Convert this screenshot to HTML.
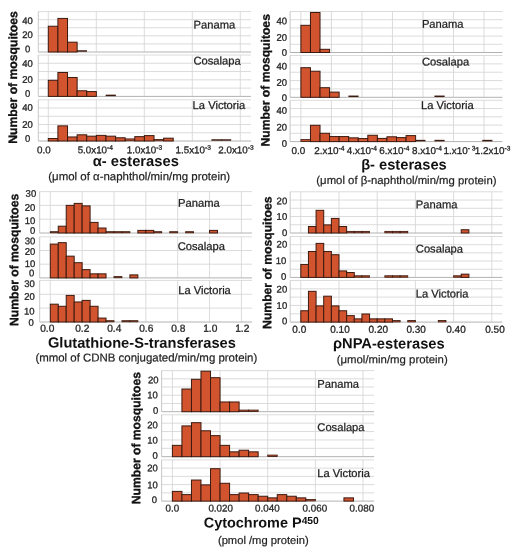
<!DOCTYPE html>
<html lang="en">
<head>
<meta charset="utf-8">
<title>Esterase histograms</title>
<style>
html,body{margin:0;padding:0;background:#fff;}
body{width:517px;height:550px;overflow:hidden;}
svg{display:block;text-rendering:geometricPrecision;filter:blur(0.32px);font-family:"Liberation Sans",Arial,Helvetica,sans-serif;}
</style>
</head>
<body>
<svg width="517" height="550" viewBox="0 0 517 550">
<rect width="517" height="550" fill="#ffffff"/>
<line x1="38.3" x2="251" y1="43.92" y2="43.92" stroke="#d4d4d4" stroke-width="0.85"/>
<line x1="38.3" x2="251" y1="35.84" y2="35.84" stroke="#d4d4d4" stroke-width="0.85"/>
<line x1="38.3" x2="251" y1="27.76" y2="27.76" stroke="#d4d4d4" stroke-width="0.85"/>
<line x1="38.3" x2="251" y1="19.68" y2="19.68" stroke="#d4d4d4" stroke-width="0.85"/>
<line x1="38.3" x2="251" y1="11.60" y2="11.60" stroke="#d4d4d4" stroke-width="0.85"/>
<line x1="48.30" x2="48.30" y1="11.60" y2="52.00" stroke="#d4d4d4" stroke-width="0.85"/>
<line x1="96.30" x2="96.30" y1="11.60" y2="52.00" stroke="#d4d4d4" stroke-width="0.85"/>
<line x1="144.30" x2="144.30" y1="11.60" y2="52.00" stroke="#d4d4d4" stroke-width="0.85"/>
<line x1="192.30" x2="192.30" y1="11.60" y2="52.00" stroke="#d4d4d4" stroke-width="0.85"/>
<line x1="240.30" x2="240.30" y1="11.60" y2="52.00" stroke="#d4d4d4" stroke-width="0.85"/>
<line x1="38.3" x2="38.3" y1="11.60" y2="52.00" stroke="#c2c2c2" stroke-width="0.9"/>
<line x1="38.3" x2="251" y1="52.00" y2="52.00" stroke="#b2b2b2" stroke-width="1"/>
<line x1="38.3" x2="251" y1="88.12" y2="88.12" stroke="#d4d4d4" stroke-width="0.85"/>
<line x1="38.3" x2="251" y1="79.84" y2="79.84" stroke="#d4d4d4" stroke-width="0.85"/>
<line x1="38.3" x2="251" y1="71.56" y2="71.56" stroke="#d4d4d4" stroke-width="0.85"/>
<line x1="38.3" x2="251" y1="63.28" y2="63.28" stroke="#d4d4d4" stroke-width="0.85"/>
<line x1="38.3" x2="251" y1="55.00" y2="55.00" stroke="#d4d4d4" stroke-width="0.85"/>
<line x1="48.30" x2="48.30" y1="55.00" y2="96.40" stroke="#d4d4d4" stroke-width="0.85"/>
<line x1="96.30" x2="96.30" y1="55.00" y2="96.40" stroke="#d4d4d4" stroke-width="0.85"/>
<line x1="144.30" x2="144.30" y1="55.00" y2="96.40" stroke="#d4d4d4" stroke-width="0.85"/>
<line x1="192.30" x2="192.30" y1="55.00" y2="96.40" stroke="#d4d4d4" stroke-width="0.85"/>
<line x1="240.30" x2="240.30" y1="55.00" y2="96.40" stroke="#d4d4d4" stroke-width="0.85"/>
<line x1="38.3" x2="38.3" y1="55.00" y2="96.40" stroke="#c2c2c2" stroke-width="0.9"/>
<line x1="38.3" x2="251" y1="96.40" y2="96.40" stroke="#b2b2b2" stroke-width="1"/>
<line x1="38.3" x2="251" y1="132.76" y2="132.76" stroke="#d4d4d4" stroke-width="0.85"/>
<line x1="38.3" x2="251" y1="124.52" y2="124.52" stroke="#d4d4d4" stroke-width="0.85"/>
<line x1="38.3" x2="251" y1="116.28" y2="116.28" stroke="#d4d4d4" stroke-width="0.85"/>
<line x1="38.3" x2="251" y1="108.04" y2="108.04" stroke="#d4d4d4" stroke-width="0.85"/>
<line x1="38.3" x2="251" y1="99.80" y2="99.80" stroke="#d4d4d4" stroke-width="0.85"/>
<line x1="48.30" x2="48.30" y1="99.80" y2="141.00" stroke="#d4d4d4" stroke-width="0.85"/>
<line x1="96.30" x2="96.30" y1="99.80" y2="141.00" stroke="#d4d4d4" stroke-width="0.85"/>
<line x1="144.30" x2="144.30" y1="99.80" y2="141.00" stroke="#d4d4d4" stroke-width="0.85"/>
<line x1="192.30" x2="192.30" y1="99.80" y2="141.00" stroke="#d4d4d4" stroke-width="0.85"/>
<line x1="240.30" x2="240.30" y1="99.80" y2="141.00" stroke="#d4d4d4" stroke-width="0.85"/>
<line x1="38.3" x2="38.3" y1="99.80" y2="141.00" stroke="#c2c2c2" stroke-width="0.9"/>
<line x1="38.3" x2="251" y1="141.00" y2="141.00" stroke="#b2b2b2" stroke-width="1"/>
<rect x="48.30" y="26.24" width="9.61" height="25.76" fill="#d2542f" stroke="#3b1a10" stroke-width="1"/>
<rect x="57.91" y="18.43" width="9.61" height="33.57" fill="#d2542f" stroke="#3b1a10" stroke-width="1"/>
<rect x="67.52" y="42.18" width="9.61" height="9.82" fill="#d2542f" stroke="#3b1a10" stroke-width="1"/>
<line x1="76.83" x2="87.04" y1="51.00" y2="51.00" stroke="#3b1a10" stroke-width="1.5"/>
<rect x="48.30" y="80.30" width="9.61" height="16.10" fill="#d2542f" stroke="#3b1a10" stroke-width="1"/>
<rect x="57.91" y="72.49" width="9.61" height="23.91" fill="#d2542f" stroke="#3b1a10" stroke-width="1"/>
<rect x="67.52" y="77.48" width="9.61" height="18.92" fill="#d2542f" stroke="#3b1a10" stroke-width="1"/>
<rect x="77.13" y="90.77" width="9.61" height="5.64" fill="#d2542f" stroke="#3b1a10" stroke-width="1"/>
<rect x="86.74" y="91.57" width="9.61" height="4.83" fill="#d2542f" stroke="#3b1a10" stroke-width="1"/>
<line x1="105.66" x2="115.87" y1="95.40" y2="95.40" stroke="#3b1a10" stroke-width="1.5"/>
<rect x="48.30" y="138.50" width="9.61" height="2.50" fill="#d2542f" stroke="#3b1a10" stroke-width="1"/>
<rect x="57.91" y="125.87" width="9.61" height="15.13" fill="#d2542f" stroke="#3b1a10" stroke-width="1"/>
<rect x="67.52" y="136.97" width="9.61" height="4.03" fill="#d2542f" stroke="#3b1a10" stroke-width="1"/>
<rect x="77.13" y="134.80" width="9.61" height="6.20" fill="#d2542f" stroke="#3b1a10" stroke-width="1"/>
<rect x="86.74" y="136.17" width="9.61" height="4.83" fill="#d2542f" stroke="#3b1a10" stroke-width="1"/>
<rect x="96.35" y="135.37" width="9.61" height="5.64" fill="#d2542f" stroke="#3b1a10" stroke-width="1"/>
<rect x="105.96" y="136.17" width="9.61" height="4.83" fill="#d2542f" stroke="#3b1a10" stroke-width="1"/>
<rect x="115.57" y="137.78" width="9.61" height="3.22" fill="#d2542f" stroke="#3b1a10" stroke-width="1"/>
<rect x="125.18" y="138.91" width="9.61" height="1.89" fill="#d2542f" stroke="#3b1a10" stroke-width="0.85"/>
<rect x="134.79" y="136.65" width="9.61" height="4.35" fill="#d2542f" stroke="#3b1a10" stroke-width="1"/>
<rect x="144.40" y="135.61" width="9.61" height="5.39" fill="#d2542f" stroke="#3b1a10" stroke-width="1"/>
<rect x="154.01" y="139.55" width="9.61" height="1.25" fill="#d2542f" stroke="#3b1a10" stroke-width="0.85"/>
<rect x="163.62" y="138.18" width="9.61" height="2.82" fill="#d2542f" stroke="#3b1a10" stroke-width="1"/>
<line x1="211.37" x2="221.58" y1="140.00" y2="140.00" stroke="#3b1a10" stroke-width="1.5"/>
<line x1="220.98" x2="231.19" y1="140.00" y2="140.00" stroke="#3b1a10" stroke-width="1.5"/>
<text transform="rotate(0.05 27.6 20.7)" x="27.6" y="23.97" font-size="9.5" fill="#262626" stroke="#262626" stroke-width="0.3" text-anchor="middle">40</text>
<text transform="rotate(0.05 27.6 34.8)" x="27.6" y="38.07" font-size="9.5" fill="#262626" stroke="#262626" stroke-width="0.3" text-anchor="middle">20</text>
<text transform="rotate(0.05 27.6 48.9)" x="27.6" y="52.17" font-size="9.5" fill="#262626" stroke="#262626" stroke-width="0.3" text-anchor="middle">0</text>
<text transform="rotate(0.05 27.6 63.4)" x="27.6" y="66.67" font-size="9.5" fill="#262626" stroke="#262626" stroke-width="0.3" text-anchor="middle">40</text>
<text transform="rotate(0.05 27.6 79.4)" x="27.6" y="82.67" font-size="9.5" fill="#262626" stroke="#262626" stroke-width="0.3" text-anchor="middle">20</text>
<text transform="rotate(0.05 27.6 93.4)" x="27.6" y="96.67" font-size="9.5" fill="#262626" stroke="#262626" stroke-width="0.3" text-anchor="middle">0</text>
<text transform="rotate(0.05 27.6 107.5)" x="27.6" y="110.77" font-size="9.5" fill="#262626" stroke="#262626" stroke-width="0.3" text-anchor="middle">40</text>
<text transform="rotate(0.05 27.6 124.6)" x="27.6" y="127.87" font-size="9.5" fill="#262626" stroke="#262626" stroke-width="0.3" text-anchor="middle">20</text>
<text transform="rotate(0.05 27.6 138.5)" x="27.6" y="141.77" font-size="9.5" fill="#262626" stroke="#262626" stroke-width="0.3" text-anchor="middle">0</text>
<text transform="rotate(0.05 193.6 28.6)" x="193.6" y="28.6" font-size="11.2" fill="#222222" stroke="#222222" stroke-width="0.25">Panama</text>
<text transform="rotate(0.05 193.4 64.6)" x="193.4" y="64.6" font-size="11.2" fill="#222222" stroke="#222222" stroke-width="0.25">Cosalapa</text>
<text transform="rotate(0.05 192.6 109)" x="192.6" y="109" font-size="11.2" fill="#222222" stroke="#222222" stroke-width="0.25">La Victoria</text>
<text transform="rotate(0.05 43.9 149.9)" x="43.90" y="153.27" font-size="9.8" fill="#262626" stroke="#262626" stroke-width="0.3" text-anchor="middle">0.0</text>
<text transform="rotate(0.05 95.3 149.9)" x="95.30" y="153.27" font-size="9.8" fill="#262626" stroke="#262626" stroke-width="0.3" text-anchor="middle">5.0x10<tspan dy="-3.4" font-size="6.6">-4</tspan></text>
<text transform="rotate(0.05 144.5 149.9)" x="144.50" y="153.27" font-size="9.8" fill="#262626" stroke="#262626" stroke-width="0.3" text-anchor="middle">1.0x10<tspan dy="-3.4" font-size="6.6">-3</tspan></text>
<text transform="rotate(0.05 193.2 149.9)" x="193.20" y="153.27" font-size="9.8" fill="#262626" stroke="#262626" stroke-width="0.3" text-anchor="middle">1.5x10<tspan dy="-3.4" font-size="6.6">-3</tspan></text>
<text transform="rotate(0.05 236.0 149.9)" x="236.00" y="153.27" font-size="9.8" fill="#262626" stroke="#262626" stroke-width="0.3" text-anchor="middle">2.0x10<tspan dy="-3.4" font-size="6.6">-3</tspan></text>
<text transform="rotate(0.05 135.85 166.0)" x="135.85" y="166.0" font-size="14.75" font-weight="bold" fill="#111" text-anchor="middle">α- esterases</text>
<text transform="rotate(0.05 139.2 180.3)" x="139.2" y="180.3" font-size="11.46" fill="#222222" stroke="#222222" stroke-width="0.2" text-anchor="middle">(μmol of α-naphthol/min/mg protein)</text>
<text transform="translate(17.1,77.45) rotate(-89.95)" font-size="12.18" font-weight="bold" fill="#111" stroke="#111" stroke-width="0.35" text-anchor="middle">Number of mosquitoes</text>
<line x1="290.1" x2="502.4" y1="44.30" y2="44.30" stroke="#d4d4d4" stroke-width="0.85"/>
<line x1="290.1" x2="502.4" y1="36.10" y2="36.10" stroke="#d4d4d4" stroke-width="0.85"/>
<line x1="290.1" x2="502.4" y1="27.90" y2="27.90" stroke="#d4d4d4" stroke-width="0.85"/>
<line x1="290.1" x2="502.4" y1="19.70" y2="19.70" stroke="#d4d4d4" stroke-width="0.85"/>
<line x1="290.1" x2="502.4" y1="11.50" y2="11.50" stroke="#d4d4d4" stroke-width="0.85"/>
<line x1="300.90" x2="300.90" y1="11.50" y2="52.50" stroke="#d4d4d4" stroke-width="0.85"/>
<line x1="331.42" x2="331.42" y1="11.50" y2="52.50" stroke="#d4d4d4" stroke-width="0.85"/>
<line x1="361.94" x2="361.94" y1="11.50" y2="52.50" stroke="#d4d4d4" stroke-width="0.85"/>
<line x1="392.46" x2="392.46" y1="11.50" y2="52.50" stroke="#d4d4d4" stroke-width="0.85"/>
<line x1="422.98" x2="422.98" y1="11.50" y2="52.50" stroke="#d4d4d4" stroke-width="0.85"/>
<line x1="453.50" x2="453.50" y1="11.50" y2="52.50" stroke="#d4d4d4" stroke-width="0.85"/>
<line x1="484.02" x2="484.02" y1="11.50" y2="52.50" stroke="#d4d4d4" stroke-width="0.85"/>
<line x1="290.1" x2="290.1" y1="11.50" y2="52.50" stroke="#c2c2c2" stroke-width="0.9"/>
<line x1="290.1" x2="502.4" y1="52.50" y2="52.50" stroke="#b2b2b2" stroke-width="1"/>
<line x1="290.1" x2="502.4" y1="88.94" y2="88.94" stroke="#d4d4d4" stroke-width="0.85"/>
<line x1="290.1" x2="502.4" y1="80.58" y2="80.58" stroke="#d4d4d4" stroke-width="0.85"/>
<line x1="290.1" x2="502.4" y1="72.22" y2="72.22" stroke="#d4d4d4" stroke-width="0.85"/>
<line x1="290.1" x2="502.4" y1="63.86" y2="63.86" stroke="#d4d4d4" stroke-width="0.85"/>
<line x1="290.1" x2="502.4" y1="55.50" y2="55.50" stroke="#d4d4d4" stroke-width="0.85"/>
<line x1="300.90" x2="300.90" y1="55.50" y2="97.30" stroke="#d4d4d4" stroke-width="0.85"/>
<line x1="331.42" x2="331.42" y1="55.50" y2="97.30" stroke="#d4d4d4" stroke-width="0.85"/>
<line x1="361.94" x2="361.94" y1="55.50" y2="97.30" stroke="#d4d4d4" stroke-width="0.85"/>
<line x1="392.46" x2="392.46" y1="55.50" y2="97.30" stroke="#d4d4d4" stroke-width="0.85"/>
<line x1="422.98" x2="422.98" y1="55.50" y2="97.30" stroke="#d4d4d4" stroke-width="0.85"/>
<line x1="453.50" x2="453.50" y1="55.50" y2="97.30" stroke="#d4d4d4" stroke-width="0.85"/>
<line x1="484.02" x2="484.02" y1="55.50" y2="97.30" stroke="#d4d4d4" stroke-width="0.85"/>
<line x1="290.1" x2="290.1" y1="55.50" y2="97.30" stroke="#c2c2c2" stroke-width="0.9"/>
<line x1="290.1" x2="502.4" y1="97.30" y2="97.30" stroke="#b2b2b2" stroke-width="1"/>
<line x1="290.1" x2="502.4" y1="133.34" y2="133.34" stroke="#d4d4d4" stroke-width="0.85"/>
<line x1="290.1" x2="502.4" y1="125.08" y2="125.08" stroke="#d4d4d4" stroke-width="0.85"/>
<line x1="290.1" x2="502.4" y1="116.82" y2="116.82" stroke="#d4d4d4" stroke-width="0.85"/>
<line x1="290.1" x2="502.4" y1="108.56" y2="108.56" stroke="#d4d4d4" stroke-width="0.85"/>
<line x1="290.1" x2="502.4" y1="100.30" y2="100.30" stroke="#d4d4d4" stroke-width="0.85"/>
<line x1="300.90" x2="300.90" y1="100.30" y2="141.60" stroke="#d4d4d4" stroke-width="0.85"/>
<line x1="331.42" x2="331.42" y1="100.30" y2="141.60" stroke="#d4d4d4" stroke-width="0.85"/>
<line x1="361.94" x2="361.94" y1="100.30" y2="141.60" stroke="#d4d4d4" stroke-width="0.85"/>
<line x1="392.46" x2="392.46" y1="100.30" y2="141.60" stroke="#d4d4d4" stroke-width="0.85"/>
<line x1="422.98" x2="422.98" y1="100.30" y2="141.60" stroke="#d4d4d4" stroke-width="0.85"/>
<line x1="453.50" x2="453.50" y1="100.30" y2="141.60" stroke="#d4d4d4" stroke-width="0.85"/>
<line x1="484.02" x2="484.02" y1="100.30" y2="141.60" stroke="#d4d4d4" stroke-width="0.85"/>
<line x1="290.1" x2="290.1" y1="100.30" y2="141.60" stroke="#c2c2c2" stroke-width="0.9"/>
<line x1="290.1" x2="502.4" y1="141.60" y2="141.60" stroke="#b2b2b2" stroke-width="1"/>
<rect x="300.90" y="25.30" width="9.56" height="27.20" fill="#d2542f" stroke="#3b1a10" stroke-width="1"/>
<rect x="310.46" y="12.50" width="9.56" height="40.00" fill="#d2542f" stroke="#3b1a10" stroke-width="1"/>
<rect x="320.02" y="49.30" width="9.56" height="3.20" fill="#d2542f" stroke="#3b1a10" stroke-width="1"/>
<rect x="300.90" y="67.70" width="9.56" height="29.60" fill="#d2542f" stroke="#3b1a10" stroke-width="1"/>
<rect x="310.46" y="71.22" width="9.56" height="26.08" fill="#d2542f" stroke="#3b1a10" stroke-width="1"/>
<rect x="320.02" y="87.70" width="9.56" height="9.60" fill="#d2542f" stroke="#3b1a10" stroke-width="1"/>
<rect x="329.58" y="92.10" width="9.56" height="5.20" fill="#d2542f" stroke="#3b1a10" stroke-width="1"/>
<line x1="348.40" x2="358.56" y1="96.30" y2="96.30" stroke="#3b1a10" stroke-width="1.5"/>
<line x1="434.44" x2="444.60" y1="96.30" y2="96.30" stroke="#3b1a10" stroke-width="1.5"/>
<rect x="300.90" y="139.60" width="9.56" height="1.80" fill="#d2542f" stroke="#3b1a10" stroke-width="0.85"/>
<rect x="310.46" y="125.28" width="9.56" height="16.32" fill="#d2542f" stroke="#3b1a10" stroke-width="1"/>
<rect x="320.02" y="133.28" width="9.56" height="8.32" fill="#d2542f" stroke="#3b1a10" stroke-width="1"/>
<rect x="329.58" y="136.56" width="9.56" height="5.04" fill="#d2542f" stroke="#3b1a10" stroke-width="1"/>
<rect x="339.14" y="136.56" width="9.56" height="5.04" fill="#d2542f" stroke="#3b1a10" stroke-width="1"/>
<rect x="348.70" y="137.84" width="9.56" height="3.76" fill="#d2542f" stroke="#3b1a10" stroke-width="1"/>
<rect x="358.26" y="138.56" width="9.56" height="3.04" fill="#d2542f" stroke="#3b1a10" stroke-width="1"/>
<rect x="367.82" y="135.28" width="9.56" height="6.32" fill="#d2542f" stroke="#3b1a10" stroke-width="1"/>
<rect x="377.38" y="138.40" width="9.56" height="3.20" fill="#d2542f" stroke="#3b1a10" stroke-width="1"/>
<rect x="386.94" y="136.80" width="9.56" height="4.80" fill="#d2542f" stroke="#3b1a10" stroke-width="1"/>
<rect x="396.50" y="137.60" width="9.56" height="4.00" fill="#d2542f" stroke="#3b1a10" stroke-width="1"/>
<rect x="406.06" y="135.60" width="9.56" height="6.00" fill="#d2542f" stroke="#3b1a10" stroke-width="1"/>
<line x1="415.32" x2="425.48" y1="140.60" y2="140.60" stroke="#3b1a10" stroke-width="1.5"/>
<line x1="434.44" x2="444.60" y1="140.60" y2="140.60" stroke="#3b1a10" stroke-width="1.5"/>
<line x1="482.24" x2="492.40" y1="140.60" y2="140.60" stroke="#3b1a10" stroke-width="1.5"/>
<text transform="rotate(0.05 287.0 20.9)" x="287.0" y="24.17" font-size="9.5" fill="#262626" stroke="#262626" stroke-width="0.3" text-anchor="end">40</text>
<text transform="rotate(0.05 287.0 37.4)" x="287.0" y="40.67" font-size="9.5" fill="#262626" stroke="#262626" stroke-width="0.3" text-anchor="end">20</text>
<text transform="rotate(0.05 287.0 52.4)" x="287.0" y="55.67" font-size="9.5" fill="#262626" stroke="#262626" stroke-width="0.3" text-anchor="end">0</text>
<text transform="rotate(0.05 287.0 66.2)" x="287.0" y="69.47" font-size="9.5" fill="#262626" stroke="#262626" stroke-width="0.3" text-anchor="end">40</text>
<text transform="rotate(0.05 287.0 82.6)" x="287.0" y="85.87" font-size="9.5" fill="#262626" stroke="#262626" stroke-width="0.3" text-anchor="end">20</text>
<text transform="rotate(0.05 287.0 97.7)" x="287.0" y="100.97" font-size="9.5" fill="#262626" stroke="#262626" stroke-width="0.3" text-anchor="end">0</text>
<text transform="rotate(0.05 287.0 110.5)" x="287.0" y="113.77" font-size="9.5" fill="#262626" stroke="#262626" stroke-width="0.3" text-anchor="end">40</text>
<text transform="rotate(0.05 287.0 127.3)" x="287.0" y="130.57" font-size="9.5" fill="#262626" stroke="#262626" stroke-width="0.3" text-anchor="end">20</text>
<text transform="rotate(0.05 287.0 143.6)" x="287.0" y="146.87" font-size="9.5" fill="#262626" stroke="#262626" stroke-width="0.3" text-anchor="end">0</text>
<text transform="rotate(0.05 421.9 27.8)" x="421.9" y="27.8" font-size="11.2" fill="#222222" stroke="#222222" stroke-width="0.25">Panama</text>
<text transform="rotate(0.05 421.9 65.4)" x="421.9" y="65.4" font-size="11.2" fill="#222222" stroke="#222222" stroke-width="0.25">Cosalapa</text>
<text transform="rotate(0.05 421 109)" x="421" y="109" font-size="11.2" fill="#222222" stroke="#222222" stroke-width="0.25">La Victoria</text>
<text transform="rotate(0.05 298.4 150.6)" x="298.40" y="154.01" font-size="9.9" fill="#262626" stroke="#262626" stroke-width="0.3" text-anchor="middle">0.0</text>
<text transform="rotate(0.05 329.3 150.6)" x="329.30" y="154.01" font-size="9.9" fill="#262626" stroke="#262626" stroke-width="0.3" text-anchor="middle">2.x10<tspan dy="-3.4" font-size="6.6">-4</tspan></text>
<text transform="rotate(0.05 361.9 150.6)" x="361.85" y="154.01" font-size="9.9" fill="#262626" stroke="#262626" stroke-width="0.3" text-anchor="middle">4.x10<tspan dy="-3.4" font-size="6.6">-4</tspan></text>
<text transform="rotate(0.05 394.4 150.6)" x="394.40" y="154.01" font-size="9.9" fill="#262626" stroke="#262626" stroke-width="0.3" text-anchor="middle">6.x10<tspan dy="-3.4" font-size="6.6">-4</tspan></text>
<text transform="rotate(0.05 426.9 150.6)" x="426.95" y="154.01" font-size="9.9" fill="#262626" stroke="#262626" stroke-width="0.3" text-anchor="middle">8.x10<tspan dy="-3.4" font-size="6.6">-4</tspan></text>
<text transform="rotate(0.05 459.5 150.6)" x="459.50" y="154.01" font-size="9.9" fill="#262626" stroke="#262626" stroke-width="0.3" text-anchor="middle">1.x10<tspan dy="-3.4" font-size="6.6">- 3</tspan></text>
<text transform="rotate(0.05 492.6 150.6)" x="492.60" y="154.01" font-size="9.9" fill="#262626" stroke="#262626" stroke-width="0.3" text-anchor="middle">1.2x10<tspan dy="-3.4" font-size="6.6">-3</tspan></text>
<text transform="rotate(0.05 403.95 169.6)" x="403.95" y="169.6" font-size="14.68" font-weight="bold" fill="#111" text-anchor="middle">β- esterases</text>
<text transform="rotate(0.05 406.4 184.1)" x="406.4" y="184.1" font-size="11.35" fill="#222222" stroke="#222222" stroke-width="0.2" text-anchor="middle">(μmol of β-naphthol/min/mg protein)</text>
<text transform="translate(269.6,80.3) rotate(-89.95)" font-size="12.17" font-weight="bold" fill="#111" stroke="#111" stroke-width="0.35" text-anchor="middle">Number of mosquitoes</text>
<line x1="39.7" x2="251.9" y1="219.20" y2="219.20" stroke="#d4d4d4" stroke-width="0.85"/>
<line x1="39.7" x2="251.9" y1="205.40" y2="205.40" stroke="#d4d4d4" stroke-width="0.85"/>
<line x1="39.7" x2="251.9" y1="191.60" y2="191.60" stroke="#d4d4d4" stroke-width="0.85"/>
<line x1="50.30" x2="50.30" y1="191.60" y2="233.00" stroke="#d4d4d4" stroke-width="0.85"/>
<line x1="82.15" x2="82.15" y1="191.60" y2="233.00" stroke="#d4d4d4" stroke-width="0.85"/>
<line x1="114.00" x2="114.00" y1="191.60" y2="233.00" stroke="#d4d4d4" stroke-width="0.85"/>
<line x1="145.85" x2="145.85" y1="191.60" y2="233.00" stroke="#d4d4d4" stroke-width="0.85"/>
<line x1="177.70" x2="177.70" y1="191.60" y2="233.00" stroke="#d4d4d4" stroke-width="0.85"/>
<line x1="209.55" x2="209.55" y1="191.60" y2="233.00" stroke="#d4d4d4" stroke-width="0.85"/>
<line x1="241.40" x2="241.40" y1="191.60" y2="233.00" stroke="#d4d4d4" stroke-width="0.85"/>
<line x1="39.7" x2="39.7" y1="191.60" y2="233.00" stroke="#c2c2c2" stroke-width="0.9"/>
<line x1="39.7" x2="251.9" y1="233.00" y2="233.00" stroke="#b2b2b2" stroke-width="1"/>
<line x1="39.7" x2="251.9" y1="264.20" y2="264.20" stroke="#d4d4d4" stroke-width="0.85"/>
<line x1="39.7" x2="251.9" y1="250.50" y2="250.50" stroke="#d4d4d4" stroke-width="0.85"/>
<line x1="39.7" x2="251.9" y1="236.80" y2="236.80" stroke="#d4d4d4" stroke-width="0.85"/>
<line x1="50.30" x2="50.30" y1="236.80" y2="277.90" stroke="#d4d4d4" stroke-width="0.85"/>
<line x1="82.15" x2="82.15" y1="236.80" y2="277.90" stroke="#d4d4d4" stroke-width="0.85"/>
<line x1="114.00" x2="114.00" y1="236.80" y2="277.90" stroke="#d4d4d4" stroke-width="0.85"/>
<line x1="145.85" x2="145.85" y1="236.80" y2="277.90" stroke="#d4d4d4" stroke-width="0.85"/>
<line x1="177.70" x2="177.70" y1="236.80" y2="277.90" stroke="#d4d4d4" stroke-width="0.85"/>
<line x1="209.55" x2="209.55" y1="236.80" y2="277.90" stroke="#d4d4d4" stroke-width="0.85"/>
<line x1="241.40" x2="241.40" y1="236.80" y2="277.90" stroke="#d4d4d4" stroke-width="0.85"/>
<line x1="39.7" x2="39.7" y1="236.80" y2="277.90" stroke="#c2c2c2" stroke-width="0.9"/>
<line x1="39.7" x2="251.9" y1="277.90" y2="277.90" stroke="#b2b2b2" stroke-width="1"/>
<line x1="39.7" x2="251.9" y1="308.13" y2="308.13" stroke="#d4d4d4" stroke-width="0.85"/>
<line x1="39.7" x2="251.9" y1="294.27" y2="294.27" stroke="#d4d4d4" stroke-width="0.85"/>
<line x1="39.7" x2="251.9" y1="280.40" y2="280.40" stroke="#d4d4d4" stroke-width="0.85"/>
<line x1="50.30" x2="50.30" y1="280.40" y2="322.00" stroke="#d4d4d4" stroke-width="0.85"/>
<line x1="82.15" x2="82.15" y1="280.40" y2="322.00" stroke="#d4d4d4" stroke-width="0.85"/>
<line x1="114.00" x2="114.00" y1="280.40" y2="322.00" stroke="#d4d4d4" stroke-width="0.85"/>
<line x1="145.85" x2="145.85" y1="280.40" y2="322.00" stroke="#d4d4d4" stroke-width="0.85"/>
<line x1="177.70" x2="177.70" y1="280.40" y2="322.00" stroke="#d4d4d4" stroke-width="0.85"/>
<line x1="209.55" x2="209.55" y1="280.40" y2="322.00" stroke="#d4d4d4" stroke-width="0.85"/>
<line x1="241.40" x2="241.40" y1="280.40" y2="322.00" stroke="#d4d4d4" stroke-width="0.85"/>
<line x1="39.7" x2="39.7" y1="280.40" y2="322.00" stroke="#c2c2c2" stroke-width="0.9"/>
<line x1="39.7" x2="251.9" y1="322.00" y2="322.00" stroke="#b2b2b2" stroke-width="1"/>
<rect x="50.30" y="231.69" width="7.96" height="1.11" fill="#d2542f" stroke="#3b1a10" stroke-width="0.85"/>
<rect x="58.26" y="226.19" width="7.96" height="6.81" fill="#d2542f" stroke="#3b1a10" stroke-width="1"/>
<rect x="66.22" y="205.36" width="7.96" height="27.64" fill="#d2542f" stroke="#3b1a10" stroke-width="1"/>
<rect x="74.18" y="203.39" width="7.96" height="29.61" fill="#d2542f" stroke="#3b1a10" stroke-width="1"/>
<rect x="82.14" y="205.88" width="7.96" height="27.12" fill="#d2542f" stroke="#3b1a10" stroke-width="1"/>
<rect x="90.10" y="222.39" width="7.96" height="10.61" fill="#d2542f" stroke="#3b1a10" stroke-width="1"/>
<rect x="98.06" y="228.02" width="7.96" height="4.98" fill="#d2542f" stroke="#3b1a10" stroke-width="1"/>
<rect x="106.02" y="231.69" width="7.96" height="1.11" fill="#d2542f" stroke="#3b1a10" stroke-width="0.85"/>
<rect x="113.98" y="231.69" width="7.96" height="1.11" fill="#d2542f" stroke="#3b1a10" stroke-width="0.85"/>
<rect x="121.94" y="231.69" width="7.96" height="1.11" fill="#d2542f" stroke="#3b1a10" stroke-width="0.85"/>
<rect x="137.86" y="230.38" width="7.96" height="2.62" fill="#d2542f" stroke="#3b1a10" stroke-width="1"/>
<rect x="145.82" y="230.38" width="7.96" height="2.62" fill="#d2542f" stroke="#3b1a10" stroke-width="1"/>
<rect x="153.78" y="231.69" width="7.96" height="1.11" fill="#d2542f" stroke="#3b1a10" stroke-width="0.85"/>
<rect x="169.70" y="231.69" width="7.96" height="1.11" fill="#d2542f" stroke="#3b1a10" stroke-width="0.85"/>
<rect x="185.62" y="231.69" width="7.96" height="1.11" fill="#d2542f" stroke="#3b1a10" stroke-width="0.85"/>
<rect x="209.50" y="230.38" width="7.96" height="2.62" fill="#d2542f" stroke="#3b1a10" stroke-width="1"/>
<rect x="50.30" y="244.10" width="7.96" height="33.80" fill="#d2542f" stroke="#3b1a10" stroke-width="1"/>
<rect x="58.26" y="242.66" width="7.96" height="35.24" fill="#d2542f" stroke="#3b1a10" stroke-width="1"/>
<rect x="66.22" y="256.15" width="7.96" height="21.75" fill="#d2542f" stroke="#3b1a10" stroke-width="1"/>
<rect x="74.18" y="262.70" width="7.96" height="15.20" fill="#d2542f" stroke="#3b1a10" stroke-width="1"/>
<rect x="82.14" y="269.65" width="7.96" height="8.25" fill="#d2542f" stroke="#3b1a10" stroke-width="1"/>
<rect x="90.10" y="273.84" width="7.96" height="4.06" fill="#d2542f" stroke="#3b1a10" stroke-width="1"/>
<rect x="98.06" y="273.84" width="7.96" height="4.06" fill="#d2542f" stroke="#3b1a10" stroke-width="1"/>
<rect x="113.98" y="276.59" width="7.96" height="1.11" fill="#d2542f" stroke="#3b1a10" stroke-width="0.85"/>
<rect x="129.90" y="274.89" width="7.96" height="3.01" fill="#d2542f" stroke="#3b1a10" stroke-width="1"/>
<rect x="50.30" y="304.18" width="7.96" height="17.82" fill="#d2542f" stroke="#3b1a10" stroke-width="1"/>
<rect x="58.26" y="306.28" width="7.96" height="15.72" fill="#d2542f" stroke="#3b1a10" stroke-width="1"/>
<rect x="66.22" y="295.41" width="7.96" height="26.59" fill="#d2542f" stroke="#3b1a10" stroke-width="1"/>
<rect x="74.18" y="301.96" width="7.96" height="20.04" fill="#d2542f" stroke="#3b1a10" stroke-width="1"/>
<rect x="82.14" y="300.38" width="7.96" height="21.62" fill="#d2542f" stroke="#3b1a10" stroke-width="1"/>
<rect x="90.10" y="306.28" width="7.96" height="15.72" fill="#d2542f" stroke="#3b1a10" stroke-width="1"/>
<rect x="98.06" y="318.07" width="7.96" height="3.93" fill="#d2542f" stroke="#3b1a10" stroke-width="1"/>
<rect x="106.02" y="320.69" width="7.96" height="1.11" fill="#d2542f" stroke="#3b1a10" stroke-width="0.85"/>
<rect x="121.94" y="320.69" width="7.96" height="1.11" fill="#d2542f" stroke="#3b1a10" stroke-width="0.85"/>
<rect x="129.90" y="320.69" width="7.96" height="1.11" fill="#d2542f" stroke="#3b1a10" stroke-width="0.85"/>
<text transform="rotate(0.05 36.2 193.4)" x="36.2" y="196.67" font-size="9.5" fill="#262626" stroke="#262626" stroke-width="0.3" text-anchor="end">30</text>
<text transform="rotate(0.05 35.3 207.6)" x="35.3" y="210.87" font-size="9.5" fill="#262626" stroke="#262626" stroke-width="0.3" text-anchor="end">20</text>
<text transform="rotate(0.05 35.3 220.7)" x="35.3" y="223.97" font-size="9.5" fill="#262626" stroke="#262626" stroke-width="0.3" text-anchor="end">10</text>
<text transform="rotate(0.05 35.3 230.5)" x="35.3" y="233.77" font-size="9.5" fill="#262626" stroke="#262626" stroke-width="0.3" text-anchor="end">0</text>
<text transform="rotate(0.05 35.3 241.0)" x="35.3" y="244.27" font-size="9.5" fill="#262626" stroke="#262626" stroke-width="0.3" text-anchor="end">30</text>
<text transform="rotate(0.05 35.3 251.6)" x="35.3" y="254.87" font-size="9.5" fill="#262626" stroke="#262626" stroke-width="0.3" text-anchor="end">20</text>
<text transform="rotate(0.05 35.3 263.7)" x="35.3" y="266.97" font-size="9.5" fill="#262626" stroke="#262626" stroke-width="0.3" text-anchor="end">10</text>
<text transform="rotate(0.05 34.4 272.9)" x="34.4" y="276.17" font-size="9.5" fill="#262626" stroke="#262626" stroke-width="0.3" text-anchor="end">0</text>
<text transform="rotate(0.05 34.8 283.8)" x="34.8" y="287.07" font-size="9.5" fill="#262626" stroke="#262626" stroke-width="0.3" text-anchor="end">30</text>
<text transform="rotate(0.05 34.8 296.6)" x="34.8" y="299.87" font-size="9.5" fill="#262626" stroke="#262626" stroke-width="0.3" text-anchor="end">20</text>
<text transform="rotate(0.05 34.5 311.2)" x="34.5" y="314.47" font-size="9.5" fill="#262626" stroke="#262626" stroke-width="0.3" text-anchor="end">10</text>
<text transform="rotate(0.05 33.7 322.6)" x="33.7" y="325.87" font-size="9.5" fill="#262626" stroke="#262626" stroke-width="0.3" text-anchor="end">0</text>
<text transform="rotate(0.05 178 206.7)" x="178" y="206.7" font-size="11.2" fill="#222222" stroke="#222222" stroke-width="0.25">Panama</text>
<text transform="rotate(0.05 177.7 250)" x="177.7" y="250" font-size="11.2" fill="#222222" stroke="#222222" stroke-width="0.25">Cosalapa</text>
<text transform="rotate(0.05 178.2 294)" x="178.2" y="294" font-size="11.2" fill="#222222" stroke="#222222" stroke-width="0.25">La Victoria</text>
<text transform="rotate(0.05 47.3 328.3)" x="47.30" y="331.81" font-size="10.2" fill="#262626" stroke="#262626" stroke-width="0.3" text-anchor="middle">0.0</text>
<text transform="rotate(0.05 82.3 328.3)" x="82.30" y="331.81" font-size="10.2" fill="#262626" stroke="#262626" stroke-width="0.3" text-anchor="middle">0.2</text>
<text transform="rotate(0.05 114.3 328.3)" x="114.30" y="331.81" font-size="10.2" fill="#262626" stroke="#262626" stroke-width="0.3" text-anchor="middle">0.4</text>
<text transform="rotate(0.05 146.3 328.3)" x="146.30" y="331.81" font-size="10.2" fill="#262626" stroke="#262626" stroke-width="0.3" text-anchor="middle">0.6</text>
<text transform="rotate(0.05 178.3 328.3)" x="178.30" y="331.81" font-size="10.2" fill="#262626" stroke="#262626" stroke-width="0.3" text-anchor="middle">0.8</text>
<text transform="rotate(0.05 210.3 328.3)" x="210.30" y="331.81" font-size="10.2" fill="#262626" stroke="#262626" stroke-width="0.3" text-anchor="middle">1.0</text>
<text transform="rotate(0.05 242.3 328.3)" x="242.30" y="331.81" font-size="10.2" fill="#262626" stroke="#262626" stroke-width="0.3" text-anchor="middle">1.2</text>
<text transform="rotate(0.05 141.9 347.7)" x="141.9" y="347.7" font-size="14.65" font-weight="bold" fill="#111" text-anchor="middle">Glutathione-S-transferases</text>
<text transform="rotate(0.05 146.3 361.5)" x="146.3" y="361.5" font-size="11.45" fill="#222222" stroke="#222222" stroke-width="0.2" text-anchor="middle">(mmol of CDNB conjugated/min/mg protein)</text>
<text transform="translate(18.2,259.9) rotate(-89.95)" font-size="12.13" font-weight="bold" fill="#111" stroke="#111" stroke-width="0.35" text-anchor="middle">Number of mosquitoes</text>
<line x1="290.2" x2="502.4" y1="224.76" y2="224.76" stroke="#d4d4d4" stroke-width="0.85"/>
<line x1="290.2" x2="502.4" y1="216.52" y2="216.52" stroke="#d4d4d4" stroke-width="0.85"/>
<line x1="290.2" x2="502.4" y1="208.28" y2="208.28" stroke="#d4d4d4" stroke-width="0.85"/>
<line x1="290.2" x2="502.4" y1="200.04" y2="200.04" stroke="#d4d4d4" stroke-width="0.85"/>
<line x1="290.2" x2="502.4" y1="191.80" y2="191.80" stroke="#d4d4d4" stroke-width="0.85"/>
<line x1="300.80" x2="300.80" y1="191.80" y2="233.00" stroke="#d4d4d4" stroke-width="0.85"/>
<line x1="339.00" x2="339.00" y1="191.80" y2="233.00" stroke="#d4d4d4" stroke-width="0.85"/>
<line x1="377.20" x2="377.20" y1="191.80" y2="233.00" stroke="#d4d4d4" stroke-width="0.85"/>
<line x1="415.40" x2="415.40" y1="191.80" y2="233.00" stroke="#d4d4d4" stroke-width="0.85"/>
<line x1="453.60" x2="453.60" y1="191.80" y2="233.00" stroke="#d4d4d4" stroke-width="0.85"/>
<line x1="491.80" x2="491.80" y1="191.80" y2="233.00" stroke="#d4d4d4" stroke-width="0.85"/>
<line x1="290.2" x2="290.2" y1="191.80" y2="233.00" stroke="#c2c2c2" stroke-width="0.9"/>
<line x1="290.2" x2="502.4" y1="233.00" y2="233.00" stroke="#b2b2b2" stroke-width="1"/>
<line x1="290.2" x2="502.4" y1="269.22" y2="269.22" stroke="#d4d4d4" stroke-width="0.85"/>
<line x1="290.2" x2="502.4" y1="261.04" y2="261.04" stroke="#d4d4d4" stroke-width="0.85"/>
<line x1="290.2" x2="502.4" y1="252.86" y2="252.86" stroke="#d4d4d4" stroke-width="0.85"/>
<line x1="290.2" x2="502.4" y1="244.68" y2="244.68" stroke="#d4d4d4" stroke-width="0.85"/>
<line x1="290.2" x2="502.4" y1="236.50" y2="236.50" stroke="#d4d4d4" stroke-width="0.85"/>
<line x1="300.80" x2="300.80" y1="236.50" y2="277.40" stroke="#d4d4d4" stroke-width="0.85"/>
<line x1="339.00" x2="339.00" y1="236.50" y2="277.40" stroke="#d4d4d4" stroke-width="0.85"/>
<line x1="377.20" x2="377.20" y1="236.50" y2="277.40" stroke="#d4d4d4" stroke-width="0.85"/>
<line x1="415.40" x2="415.40" y1="236.50" y2="277.40" stroke="#d4d4d4" stroke-width="0.85"/>
<line x1="453.60" x2="453.60" y1="236.50" y2="277.40" stroke="#d4d4d4" stroke-width="0.85"/>
<line x1="491.80" x2="491.80" y1="236.50" y2="277.40" stroke="#d4d4d4" stroke-width="0.85"/>
<line x1="290.2" x2="290.2" y1="236.50" y2="277.40" stroke="#c2c2c2" stroke-width="0.9"/>
<line x1="290.2" x2="502.4" y1="277.40" y2="277.40" stroke="#b2b2b2" stroke-width="1"/>
<line x1="290.2" x2="502.4" y1="313.78" y2="313.78" stroke="#d4d4d4" stroke-width="0.85"/>
<line x1="290.2" x2="502.4" y1="305.46" y2="305.46" stroke="#d4d4d4" stroke-width="0.85"/>
<line x1="290.2" x2="502.4" y1="297.14" y2="297.14" stroke="#d4d4d4" stroke-width="0.85"/>
<line x1="290.2" x2="502.4" y1="288.82" y2="288.82" stroke="#d4d4d4" stroke-width="0.85"/>
<line x1="290.2" x2="502.4" y1="280.50" y2="280.50" stroke="#d4d4d4" stroke-width="0.85"/>
<line x1="300.80" x2="300.80" y1="280.50" y2="322.10" stroke="#d4d4d4" stroke-width="0.85"/>
<line x1="339.00" x2="339.00" y1="280.50" y2="322.10" stroke="#d4d4d4" stroke-width="0.85"/>
<line x1="377.20" x2="377.20" y1="280.50" y2="322.10" stroke="#d4d4d4" stroke-width="0.85"/>
<line x1="415.40" x2="415.40" y1="280.50" y2="322.10" stroke="#d4d4d4" stroke-width="0.85"/>
<line x1="453.60" x2="453.60" y1="280.50" y2="322.10" stroke="#d4d4d4" stroke-width="0.85"/>
<line x1="491.80" x2="491.80" y1="280.50" y2="322.10" stroke="#d4d4d4" stroke-width="0.85"/>
<line x1="290.2" x2="290.2" y1="280.50" y2="322.10" stroke="#c2c2c2" stroke-width="0.9"/>
<line x1="290.2" x2="502.4" y1="322.10" y2="322.10" stroke="#b2b2b2" stroke-width="1"/>
<rect x="308.44" y="226.52" width="7.64" height="6.48" fill="#d2542f" stroke="#3b1a10" stroke-width="1"/>
<rect x="316.08" y="210.32" width="7.64" height="22.68" fill="#d2542f" stroke="#3b1a10" stroke-width="1"/>
<rect x="323.72" y="224.90" width="7.64" height="8.10" fill="#d2542f" stroke="#3b1a10" stroke-width="1"/>
<rect x="331.36" y="218.42" width="7.64" height="14.58" fill="#d2542f" stroke="#3b1a10" stroke-width="1"/>
<rect x="339.00" y="226.52" width="7.64" height="6.48" fill="#d2542f" stroke="#3b1a10" stroke-width="1"/>
<rect x="346.64" y="231.38" width="7.64" height="1.42" fill="#d2542f" stroke="#3b1a10" stroke-width="0.85"/>
<rect x="354.28" y="231.38" width="7.64" height="1.42" fill="#d2542f" stroke="#3b1a10" stroke-width="0.85"/>
<rect x="361.92" y="231.38" width="7.64" height="1.42" fill="#d2542f" stroke="#3b1a10" stroke-width="0.85"/>
<rect x="384.84" y="231.38" width="7.64" height="1.42" fill="#d2542f" stroke="#3b1a10" stroke-width="0.85"/>
<rect x="392.48" y="231.38" width="7.64" height="1.42" fill="#d2542f" stroke="#3b1a10" stroke-width="0.85"/>
<rect x="400.12" y="231.38" width="7.64" height="1.42" fill="#d2542f" stroke="#3b1a10" stroke-width="0.85"/>
<rect x="461.24" y="229.76" width="7.64" height="3.24" fill="#d2542f" stroke="#3b1a10" stroke-width="1"/>
<rect x="300.80" y="264.44" width="7.64" height="12.96" fill="#d2542f" stroke="#3b1a10" stroke-width="1"/>
<rect x="308.44" y="251.48" width="7.64" height="25.92" fill="#d2542f" stroke="#3b1a10" stroke-width="1"/>
<rect x="316.08" y="243.38" width="7.64" height="34.02" fill="#d2542f" stroke="#3b1a10" stroke-width="1"/>
<rect x="323.72" y="251.48" width="7.64" height="25.92" fill="#d2542f" stroke="#3b1a10" stroke-width="1"/>
<rect x="331.36" y="254.72" width="7.64" height="22.68" fill="#d2542f" stroke="#3b1a10" stroke-width="1"/>
<rect x="339.00" y="270.92" width="7.64" height="6.48" fill="#d2542f" stroke="#3b1a10" stroke-width="1"/>
<rect x="346.64" y="272.54" width="7.64" height="4.86" fill="#d2542f" stroke="#3b1a10" stroke-width="1"/>
<rect x="354.28" y="275.78" width="7.64" height="1.42" fill="#d2542f" stroke="#3b1a10" stroke-width="0.85"/>
<rect x="361.92" y="275.78" width="7.64" height="1.42" fill="#d2542f" stroke="#3b1a10" stroke-width="0.85"/>
<rect x="384.84" y="275.78" width="7.64" height="1.42" fill="#d2542f" stroke="#3b1a10" stroke-width="0.85"/>
<rect x="392.48" y="275.78" width="7.64" height="1.42" fill="#d2542f" stroke="#3b1a10" stroke-width="0.85"/>
<rect x="400.12" y="275.78" width="7.64" height="1.42" fill="#d2542f" stroke="#3b1a10" stroke-width="0.85"/>
<rect x="453.60" y="275.78" width="7.64" height="1.42" fill="#d2542f" stroke="#3b1a10" stroke-width="0.85"/>
<rect x="461.24" y="274.16" width="7.64" height="3.24" fill="#d2542f" stroke="#3b1a10" stroke-width="1"/>
<rect x="300.80" y="310.76" width="7.64" height="11.34" fill="#d2542f" stroke="#3b1a10" stroke-width="1"/>
<rect x="308.44" y="291.32" width="7.64" height="30.78" fill="#d2542f" stroke="#3b1a10" stroke-width="1"/>
<rect x="316.08" y="305.90" width="7.64" height="16.20" fill="#d2542f" stroke="#3b1a10" stroke-width="1"/>
<rect x="323.72" y="296.18" width="7.64" height="25.92" fill="#d2542f" stroke="#3b1a10" stroke-width="1"/>
<rect x="331.36" y="305.90" width="7.64" height="16.20" fill="#d2542f" stroke="#3b1a10" stroke-width="1"/>
<rect x="339.00" y="310.76" width="7.64" height="11.34" fill="#d2542f" stroke="#3b1a10" stroke-width="1"/>
<rect x="346.64" y="315.62" width="7.64" height="6.48" fill="#d2542f" stroke="#3b1a10" stroke-width="1"/>
<rect x="354.28" y="318.86" width="7.64" height="3.24" fill="#d2542f" stroke="#3b1a10" stroke-width="1"/>
<rect x="361.92" y="314.00" width="7.64" height="8.10" fill="#d2542f" stroke="#3b1a10" stroke-width="1"/>
<rect x="369.56" y="318.86" width="7.64" height="3.24" fill="#d2542f" stroke="#3b1a10" stroke-width="1"/>
<rect x="377.20" y="318.86" width="7.64" height="3.24" fill="#d2542f" stroke="#3b1a10" stroke-width="1"/>
<rect x="384.84" y="318.86" width="7.64" height="3.24" fill="#d2542f" stroke="#3b1a10" stroke-width="1"/>
<rect x="392.48" y="320.48" width="7.64" height="1.42" fill="#d2542f" stroke="#3b1a10" stroke-width="0.85"/>
<rect x="407.76" y="320.48" width="7.64" height="1.42" fill="#d2542f" stroke="#3b1a10" stroke-width="0.85"/>
<rect x="438.32" y="320.48" width="7.64" height="1.42" fill="#d2542f" stroke="#3b1a10" stroke-width="0.85"/>
<text transform="rotate(0.05 287.2 201.1)" x="287.2" y="204.37" font-size="9.5" fill="#262626" stroke="#262626" stroke-width="0.3" text-anchor="end">20</text>
<text transform="rotate(0.05 287.2 216.6)" x="287.2" y="219.87" font-size="9.5" fill="#262626" stroke="#262626" stroke-width="0.3" text-anchor="end">10</text>
<text transform="rotate(0.05 287.2 232.7)" x="287.2" y="235.97" font-size="9.5" fill="#262626" stroke="#262626" stroke-width="0.3" text-anchor="end">0</text>
<text transform="rotate(0.05 287.2 244.3)" x="287.2" y="247.57" font-size="9.5" fill="#262626" stroke="#262626" stroke-width="0.3" text-anchor="end">20</text>
<text transform="rotate(0.05 286.3 260.8)" x="286.3" y="264.07" font-size="9.5" fill="#262626" stroke="#262626" stroke-width="0.3" text-anchor="end">10</text>
<text transform="rotate(0.05 286.3 276.4)" x="286.3" y="279.67" font-size="9.5" fill="#262626" stroke="#262626" stroke-width="0.3" text-anchor="end">0</text>
<text transform="rotate(0.05 287.2 289.2)" x="287.2" y="292.47" font-size="9.5" fill="#262626" stroke="#262626" stroke-width="0.3" text-anchor="end">20</text>
<text transform="rotate(0.05 287.2 305.6)" x="287.2" y="308.87" font-size="9.5" fill="#262626" stroke="#262626" stroke-width="0.3" text-anchor="end">10</text>
<text transform="rotate(0.05 287.2 320.9)" x="287.2" y="324.17" font-size="9.5" fill="#262626" stroke="#262626" stroke-width="0.3" text-anchor="end">0</text>
<text transform="rotate(0.05 415.8 208.3)" x="415.8" y="208.3" font-size="11.2" fill="#222222" stroke="#222222" stroke-width="0.25">Panama</text>
<text transform="rotate(0.05 415.8 252.6)" x="415.8" y="252.6" font-size="11.2" fill="#222222" stroke="#222222" stroke-width="0.25">Cosalapa</text>
<text transform="rotate(0.05 415.8 297.5)" x="415.8" y="297.5" font-size="11.2" fill="#222222" stroke="#222222" stroke-width="0.25">La Victoria</text>
<text transform="rotate(0.05 299.3 329.3)" x="299.30" y="332.74" font-size="10.0" fill="#262626" stroke="#262626" stroke-width="0.3" text-anchor="middle">0.0</text>
<text transform="rotate(0.05 340.0 329.3)" x="340.00" y="332.74" font-size="10.0" fill="#262626" stroke="#262626" stroke-width="0.3" text-anchor="middle">0.10</text>
<text transform="rotate(0.05 378.3 329.3)" x="378.30" y="332.74" font-size="10.0" fill="#262626" stroke="#262626" stroke-width="0.3" text-anchor="middle">0.20</text>
<text transform="rotate(0.05 416.2 329.3)" x="416.20" y="332.74" font-size="10.0" fill="#262626" stroke="#262626" stroke-width="0.3" text-anchor="middle">0.30</text>
<text transform="rotate(0.05 456.0 329.3)" x="456.00" y="332.74" font-size="10.0" fill="#262626" stroke="#262626" stroke-width="0.3" text-anchor="middle">0.40</text>
<text transform="rotate(0.05 495.0 329.3)" x="495.00" y="332.74" font-size="10.0" fill="#262626" stroke="#262626" stroke-width="0.3" text-anchor="middle">0.50</text>
<text transform="rotate(0.05 388.8 348.4)" x="388.8" y="348.4" font-size="14.69" font-weight="bold" fill="#111" text-anchor="middle">ρNPA-esterases</text>
<text transform="rotate(0.05 392.2 363.3)" x="392.2" y="363.3" font-size="11.4" fill="#222222" stroke="#222222" stroke-width="0.2" text-anchor="middle">(μmol/min/mg protein)</text>
<text transform="translate(271.4,262.7) rotate(-89.95)" font-size="12.17" font-weight="bold" fill="#111" stroke="#111" stroke-width="0.35" text-anchor="middle">Number of mosquitoes</text>
<line x1="161.6" x2="374.1" y1="403.48" y2="403.48" stroke="#d4d4d4" stroke-width="0.85"/>
<line x1="161.6" x2="374.1" y1="395.26" y2="395.26" stroke="#d4d4d4" stroke-width="0.85"/>
<line x1="161.6" x2="374.1" y1="387.04" y2="387.04" stroke="#d4d4d4" stroke-width="0.85"/>
<line x1="161.6" x2="374.1" y1="378.82" y2="378.82" stroke="#d4d4d4" stroke-width="0.85"/>
<line x1="161.6" x2="374.1" y1="370.60" y2="370.60" stroke="#d4d4d4" stroke-width="0.85"/>
<line x1="172.40" x2="172.40" y1="370.60" y2="411.70" stroke="#d4d4d4" stroke-width="0.85"/>
<line x1="220.05" x2="220.05" y1="370.60" y2="411.70" stroke="#d4d4d4" stroke-width="0.85"/>
<line x1="267.70" x2="267.70" y1="370.60" y2="411.70" stroke="#d4d4d4" stroke-width="0.85"/>
<line x1="315.35" x2="315.35" y1="370.60" y2="411.70" stroke="#d4d4d4" stroke-width="0.85"/>
<line x1="363.00" x2="363.00" y1="370.60" y2="411.70" stroke="#d4d4d4" stroke-width="0.85"/>
<line x1="161.6" x2="161.6" y1="370.60" y2="411.70" stroke="#c2c2c2" stroke-width="0.9"/>
<line x1="161.6" x2="374.1" y1="411.70" y2="411.70" stroke="#b2b2b2" stroke-width="1"/>
<line x1="161.6" x2="374.1" y1="448.32" y2="448.32" stroke="#d4d4d4" stroke-width="0.85"/>
<line x1="161.6" x2="374.1" y1="439.94" y2="439.94" stroke="#d4d4d4" stroke-width="0.85"/>
<line x1="161.6" x2="374.1" y1="431.56" y2="431.56" stroke="#d4d4d4" stroke-width="0.85"/>
<line x1="161.6" x2="374.1" y1="423.18" y2="423.18" stroke="#d4d4d4" stroke-width="0.85"/>
<line x1="161.6" x2="374.1" y1="414.80" y2="414.80" stroke="#d4d4d4" stroke-width="0.85"/>
<line x1="172.40" x2="172.40" y1="414.80" y2="456.70" stroke="#d4d4d4" stroke-width="0.85"/>
<line x1="220.05" x2="220.05" y1="414.80" y2="456.70" stroke="#d4d4d4" stroke-width="0.85"/>
<line x1="267.70" x2="267.70" y1="414.80" y2="456.70" stroke="#d4d4d4" stroke-width="0.85"/>
<line x1="315.35" x2="315.35" y1="414.80" y2="456.70" stroke="#d4d4d4" stroke-width="0.85"/>
<line x1="363.00" x2="363.00" y1="414.80" y2="456.70" stroke="#d4d4d4" stroke-width="0.85"/>
<line x1="161.6" x2="161.6" y1="414.80" y2="456.70" stroke="#c2c2c2" stroke-width="0.9"/>
<line x1="161.6" x2="374.1" y1="456.70" y2="456.70" stroke="#b2b2b2" stroke-width="1"/>
<line x1="161.6" x2="374.1" y1="492.86" y2="492.86" stroke="#d4d4d4" stroke-width="0.85"/>
<line x1="161.6" x2="374.1" y1="484.62" y2="484.62" stroke="#d4d4d4" stroke-width="0.85"/>
<line x1="161.6" x2="374.1" y1="476.38" y2="476.38" stroke="#d4d4d4" stroke-width="0.85"/>
<line x1="161.6" x2="374.1" y1="468.14" y2="468.14" stroke="#d4d4d4" stroke-width="0.85"/>
<line x1="161.6" x2="374.1" y1="459.90" y2="459.90" stroke="#d4d4d4" stroke-width="0.85"/>
<line x1="172.40" x2="172.40" y1="459.90" y2="501.10" stroke="#d4d4d4" stroke-width="0.85"/>
<line x1="220.05" x2="220.05" y1="459.90" y2="501.10" stroke="#d4d4d4" stroke-width="0.85"/>
<line x1="267.70" x2="267.70" y1="459.90" y2="501.10" stroke="#d4d4d4" stroke-width="0.85"/>
<line x1="315.35" x2="315.35" y1="459.90" y2="501.10" stroke="#d4d4d4" stroke-width="0.85"/>
<line x1="363.00" x2="363.00" y1="459.90" y2="501.10" stroke="#d4d4d4" stroke-width="0.85"/>
<line x1="161.6" x2="161.6" y1="459.90" y2="501.10" stroke="#c2c2c2" stroke-width="0.9"/>
<line x1="161.6" x2="374.1" y1="501.10" y2="501.10" stroke="#b2b2b2" stroke-width="1"/>
<rect x="181.93" y="389.02" width="9.53" height="22.68" fill="#d2542f" stroke="#3b1a10" stroke-width="1"/>
<rect x="191.46" y="379.30" width="9.53" height="32.40" fill="#d2542f" stroke="#3b1a10" stroke-width="1"/>
<rect x="200.99" y="371.20" width="9.53" height="40.50" fill="#d2542f" stroke="#3b1a10" stroke-width="1"/>
<rect x="210.52" y="377.68" width="9.53" height="34.02" fill="#d2542f" stroke="#3b1a10" stroke-width="1"/>
<rect x="220.05" y="401.98" width="9.53" height="9.72" fill="#d2542f" stroke="#3b1a10" stroke-width="1"/>
<rect x="229.58" y="401.98" width="9.53" height="9.72" fill="#d2542f" stroke="#3b1a10" stroke-width="1"/>
<rect x="239.11" y="410.08" width="9.53" height="1.42" fill="#d2542f" stroke="#3b1a10" stroke-width="0.85"/>
<rect x="248.64" y="410.08" width="9.53" height="1.42" fill="#d2542f" stroke="#3b1a10" stroke-width="0.85"/>
<rect x="172.40" y="445.36" width="9.53" height="11.34" fill="#d2542f" stroke="#3b1a10" stroke-width="1"/>
<rect x="181.93" y="425.92" width="9.53" height="30.78" fill="#d2542f" stroke="#3b1a10" stroke-width="1"/>
<rect x="191.46" y="422.68" width="9.53" height="34.02" fill="#d2542f" stroke="#3b1a10" stroke-width="1"/>
<rect x="200.99" y="430.78" width="9.53" height="25.92" fill="#d2542f" stroke="#3b1a10" stroke-width="1"/>
<rect x="210.52" y="435.64" width="9.53" height="21.06" fill="#d2542f" stroke="#3b1a10" stroke-width="1"/>
<rect x="220.05" y="445.36" width="9.53" height="11.34" fill="#d2542f" stroke="#3b1a10" stroke-width="1"/>
<rect x="229.58" y="451.84" width="9.53" height="4.86" fill="#d2542f" stroke="#3b1a10" stroke-width="1"/>
<rect x="239.11" y="450.22" width="9.53" height="6.48" fill="#d2542f" stroke="#3b1a10" stroke-width="1"/>
<rect x="248.64" y="451.84" width="9.53" height="4.86" fill="#d2542f" stroke="#3b1a10" stroke-width="1"/>
<rect x="267.70" y="455.08" width="9.53" height="1.42" fill="#d2542f" stroke="#3b1a10" stroke-width="0.85"/>
<rect x="172.40" y="491.38" width="9.53" height="9.72" fill="#d2542f" stroke="#3b1a10" stroke-width="1"/>
<rect x="181.93" y="494.62" width="9.53" height="6.48" fill="#d2542f" stroke="#3b1a10" stroke-width="1"/>
<rect x="191.46" y="480.04" width="9.53" height="21.06" fill="#d2542f" stroke="#3b1a10" stroke-width="1"/>
<rect x="200.99" y="484.90" width="9.53" height="16.20" fill="#d2542f" stroke="#3b1a10" stroke-width="1"/>
<rect x="210.52" y="468.70" width="9.53" height="32.40" fill="#d2542f" stroke="#3b1a10" stroke-width="1"/>
<rect x="220.05" y="483.28" width="9.53" height="17.82" fill="#d2542f" stroke="#3b1a10" stroke-width="1"/>
<rect x="229.58" y="494.62" width="9.53" height="6.48" fill="#d2542f" stroke="#3b1a10" stroke-width="1"/>
<rect x="239.11" y="493.00" width="9.53" height="8.10" fill="#d2542f" stroke="#3b1a10" stroke-width="1"/>
<rect x="248.64" y="494.62" width="9.53" height="6.48" fill="#d2542f" stroke="#3b1a10" stroke-width="1"/>
<rect x="258.17" y="496.24" width="9.53" height="4.86" fill="#d2542f" stroke="#3b1a10" stroke-width="1"/>
<rect x="267.70" y="497.86" width="9.53" height="3.24" fill="#d2542f" stroke="#3b1a10" stroke-width="1"/>
<rect x="277.23" y="494.62" width="9.53" height="6.48" fill="#d2542f" stroke="#3b1a10" stroke-width="1"/>
<rect x="286.76" y="496.24" width="9.53" height="4.86" fill="#d2542f" stroke="#3b1a10" stroke-width="1"/>
<rect x="296.29" y="497.86" width="9.53" height="3.24" fill="#d2542f" stroke="#3b1a10" stroke-width="1"/>
<rect x="305.82" y="499.48" width="9.53" height="1.42" fill="#d2542f" stroke="#3b1a10" stroke-width="0.85"/>
<rect x="343.94" y="497.86" width="9.53" height="3.24" fill="#d2542f" stroke="#3b1a10" stroke-width="1"/>
<text transform="rotate(0.05 158.5 379.9)" x="158.5" y="383.17" font-size="9.5" fill="#262626" stroke="#262626" stroke-width="0.3" text-anchor="end">20</text>
<text transform="rotate(0.05 157.8 395.0)" x="157.8" y="398.27" font-size="9.5" fill="#262626" stroke="#262626" stroke-width="0.3" text-anchor="end">10</text>
<text transform="rotate(0.05 158.2 410.5)" x="158.2" y="413.77" font-size="9.5" fill="#262626" stroke="#262626" stroke-width="0.3" text-anchor="end">0</text>
<text transform="rotate(0.05 157.8 425.0)" x="157.8" y="428.27" font-size="9.5" fill="#262626" stroke="#262626" stroke-width="0.3" text-anchor="end">20</text>
<text transform="rotate(0.05 157.8 440.3)" x="157.8" y="443.57" font-size="9.5" fill="#262626" stroke="#262626" stroke-width="0.3" text-anchor="end">10</text>
<text transform="rotate(0.05 157.8 455.6)" x="157.8" y="458.87" font-size="9.5" fill="#262626" stroke="#262626" stroke-width="0.3" text-anchor="end">0</text>
<text transform="rotate(0.05 157.8 468.1)" x="157.8" y="471.37" font-size="9.5" fill="#262626" stroke="#262626" stroke-width="0.3" text-anchor="end">20</text>
<text transform="rotate(0.05 157.8 485.0)" x="157.8" y="488.27" font-size="9.5" fill="#262626" stroke="#262626" stroke-width="0.3" text-anchor="end">10</text>
<text transform="rotate(0.05 157.0 499.7)" x="157.0" y="502.97" font-size="9.5" fill="#262626" stroke="#262626" stroke-width="0.3" text-anchor="end">0</text>
<text transform="rotate(0.05 317.3 387.7)" x="317.3" y="387.7" font-size="11.2" fill="#222222" stroke="#222222" stroke-width="0.25">Panama</text>
<text transform="rotate(0.05 317.3 431)" x="317.3" y="431" font-size="11.2" fill="#222222" stroke="#222222" stroke-width="0.25">Cosalapa</text>
<text transform="rotate(0.05 317.3 477)" x="317.3" y="477" font-size="11.2" fill="#222222" stroke="#222222" stroke-width="0.25">La Victoria</text>
<text transform="rotate(0.05 172.4 508.2)" x="172.40" y="511.57" font-size="9.8" fill="#262626" stroke="#262626" stroke-width="0.3" text-anchor="middle">0.0</text>
<text transform="rotate(0.05 220.7 508.2)" x="220.70" y="511.57" font-size="9.8" fill="#262626" stroke="#262626" stroke-width="0.3" text-anchor="middle">0.020</text>
<text transform="rotate(0.05 267.4 508.2)" x="267.40" y="511.57" font-size="9.8" fill="#262626" stroke="#262626" stroke-width="0.3" text-anchor="middle">0.040</text>
<text transform="rotate(0.05 314.9 508.2)" x="314.90" y="511.57" font-size="9.8" fill="#262626" stroke="#262626" stroke-width="0.3" text-anchor="middle">0.060</text>
<text transform="rotate(0.05 361.9 508.2)" x="361.90" y="511.57" font-size="9.8" fill="#262626" stroke="#262626" stroke-width="0.3" text-anchor="middle">0.080</text>
<text transform="rotate(0.05 261.3 527.5)" x="261.3" y="527.5" font-size="14.45" font-weight="bold" fill="#111" text-anchor="middle">Cytochrome P<tspan dy="-3.6" font-size="10.3">450</tspan></text>
<text transform="rotate(0.05 263.3 544.0)" x="263.3" y="544.0" font-size="11.2" fill="#222222" stroke="#222222" stroke-width="0.2" text-anchor="middle">(pmol /mg protein)</text>
<text transform="translate(140.3,438.15) rotate(-89.95)" font-size="12.13" font-weight="bold" fill="#111" stroke="#111" stroke-width="0.35" text-anchor="middle">Number of mosquitoes</text>
</svg>
</body>
</html>
